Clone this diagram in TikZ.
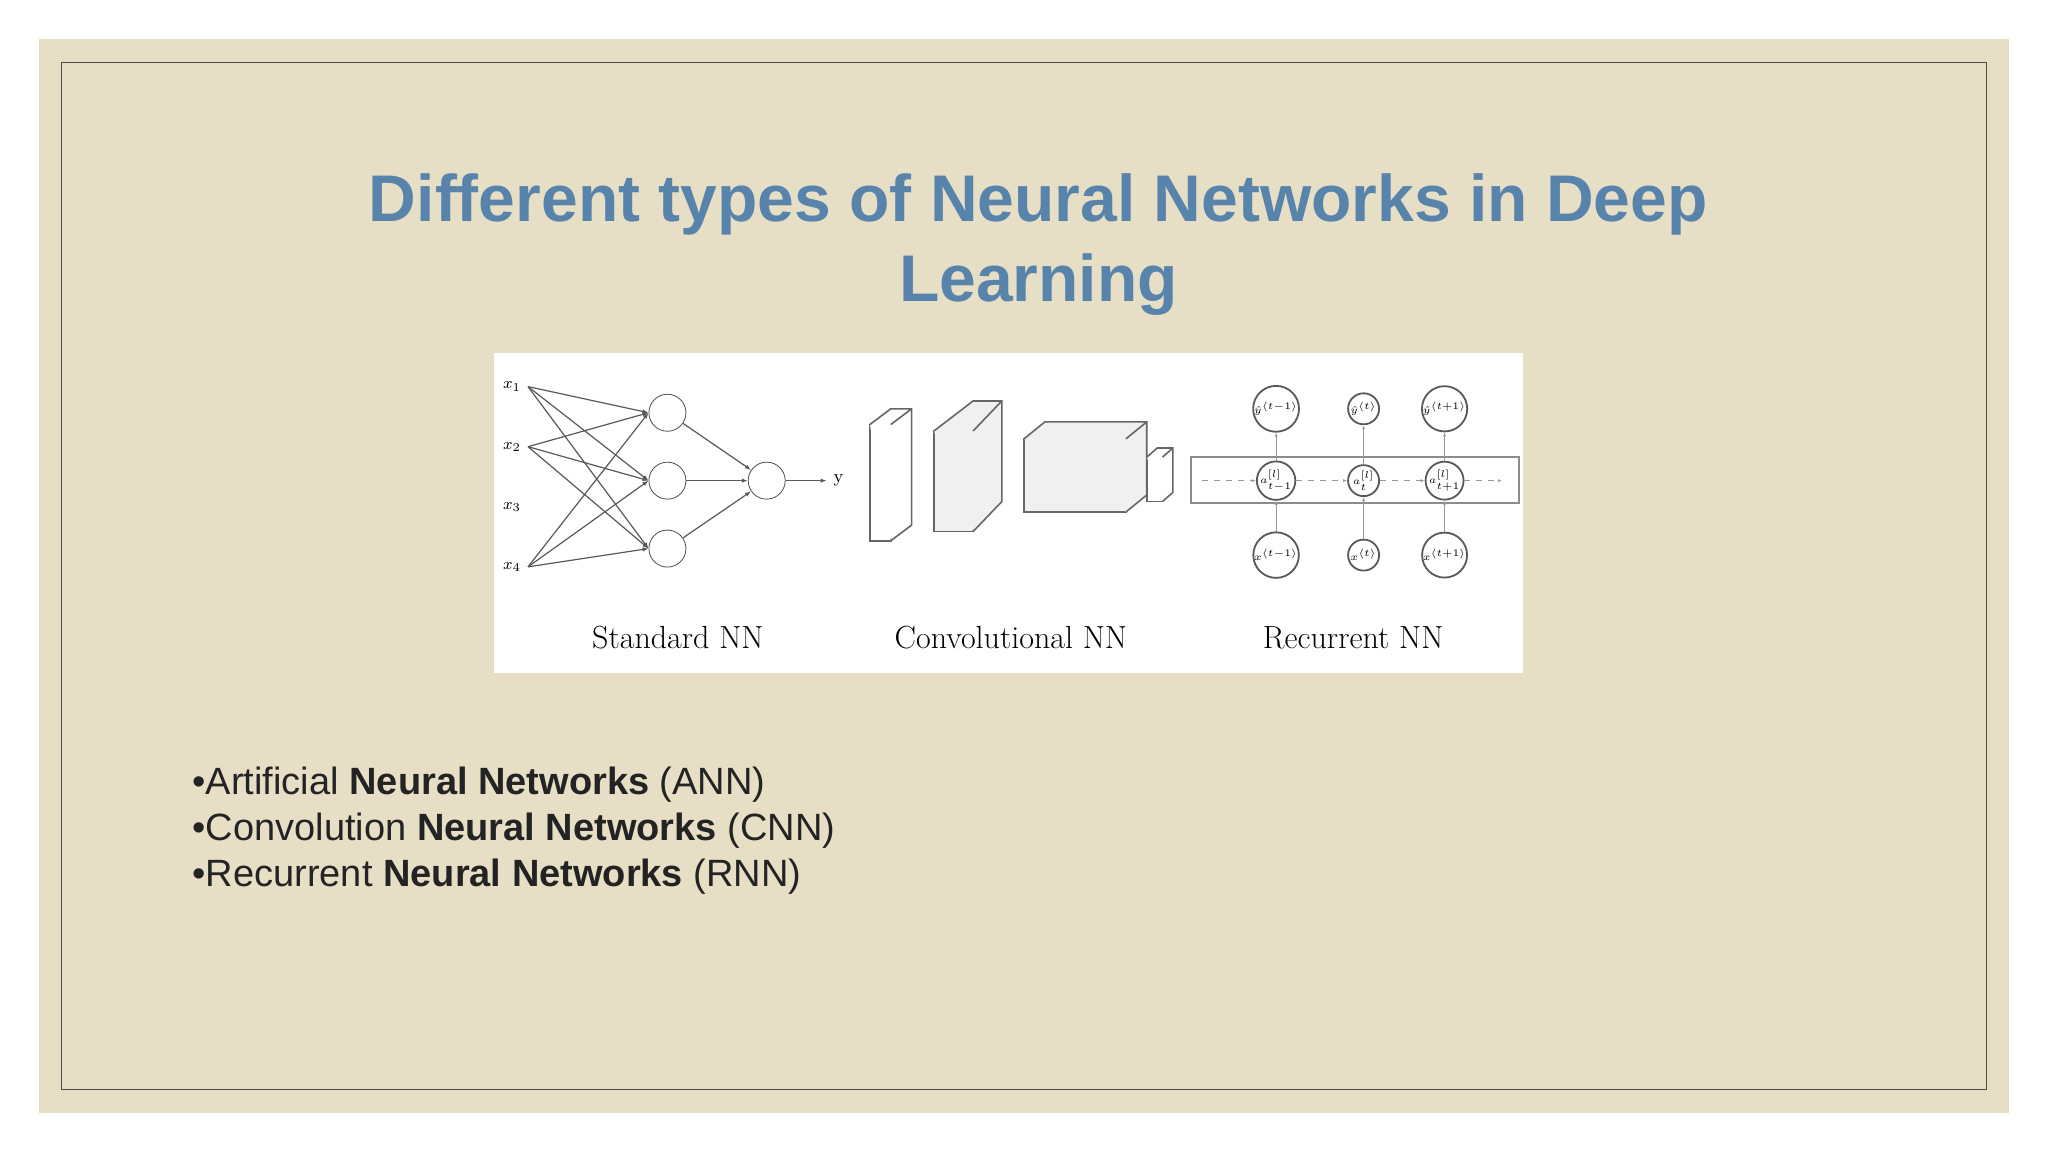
\documentclass[tikz,border=0pt]{standalone}
\usepackage{fontspec}
\newfontfamily\arial{Liberation Sans}
\usetikzlibrary{arrows.meta}
\definecolor{beige}{RGB}{230,223,198}
\definecolor{ttl}{RGB}{88,132,172}
\definecolor{txt}{RGB}{35,35,35}
\begin{document}
\begin{tikzpicture}[x=0.653pt,y=-0.653pt,
 neu/.style={circle,draw=black!70,fill=white,minimum size=18.5pt,inner sep=0pt},
 rn/.style={circle,draw=black!65,line width=0.9pt,fill=white,minimum size=15.5pt,inner sep=0pt,font=\fontsize{4}{4}\selectfont},
 inl/.style={font=\fontsize{8}{8}\selectfont\itshape},
 lbl/.style={font=\fontsize{16}{16}\selectfont},
 w/.style={draw=black!65,line width=0.6pt,-{Latex[length=3pt]}},
 blk/.style={draw=black!60,line width=0.8pt,fill=white},
 dots/.style={draw=black!60,line width=0.8pt,fill=black!6},
 bul/.style={font=\fontsize{19}{23}\selectfont\arial,text=txt,anchor=west}]
\useasboundingbox (0,0) rectangle (1568,882);
\fill[white] (0,0) rectangle (1568,882);
\fill[beige] (30,30) rectangle (1538,852);
\draw[black!70,line width=0.5pt] (47,48) rectangle (1521,834);
\node[font=\fontsize{33}{40}\selectfont\arial\bfseries,text=ttl,align=center] (title) at (795,187) {Different types of Neural Networks in Deep\\Learning};
\fill[white] (378,270) rectangle (1166,515);
% Standard NN
\foreach \i/\y in {1/296,2/342,3/388,4/434} \node[inl] (x\i) at (392,\y) {$x_{\i}$};
\foreach \j/\y in {1/316,2/368,3/420} \node[neu] (h\j) at (511,\y) {};
\node[neu] (o) at (587,368) {};
\node[font=\fontsize{9}{9}\selectfont] (yy) at (642,368) {y};
\foreach \i in {1,2,4} \foreach \j in {1,2,3} \draw[w] (x\i.east) -- (h\j.west);
\foreach \j in {1,2,3} \draw[w] (h\j) -- (o);
\draw[w] (o) -- (yy);
% CNN
\draw[blk] (666,325) rectangle (682,414);
\draw[blk] (666,325) -- (682,313) -- (698,313) -- (698,402) -- (682,414) (682,325) -- (698,313);
\draw[dots] (715,330) rectangle (745,407);
\draw[dots] (715,330) -- (745,307) -- (767,307) -- (767,384) -- (745,407) (745,330) -- (767,307);
\draw[dots] (784,336) rectangle (862,392);
\draw[dots] (784,336) -- (800,323) -- (878,323) -- (878,379) -- (862,392) (862,336) -- (878,323);
\draw[blk] (878,350) rectangle (890,384);
\draw[blk] (878,350) -- (886,343) -- (898,343) -- (898,377) -- (890,384) (890,350) -- (898,343);
% RNN
\draw[black!45,line width=0.8pt] (912,350) rectangle (1163,385);
\foreach \k/\x/\s in {1/977/{t-1},2/1044/{t},3/1106/{t+1}}{
 \node[rn] (y\k) at (\x,313) {$\hat y^{\langle\s\rangle}$};
 \node[rn] (a\k) at (\x,368) {$a^{[l]}_{\s}$};
 \node[rn] (xr\k) at (\x,425) {$x^{\langle\s\rangle}$};
 \draw[black!40,line width=0.4pt,-{Latex[length=2pt]}] (xr\k) -- (a\k);
 \draw[black!40,line width=0.4pt,-{Latex[length=2pt]}] (a\k) -- (y\k);}
\coordinate (rs) at (920,368); \coordinate (re) at (1150,368);
\draw[black!40,line width=0.4pt,dashed,-{Latex[length=2pt]}] (rs) -- (a1);
\draw[black!40,line width=0.4pt,dashed,-{Latex[length=2pt]}] (a1) -- (a2);
\draw[black!40,line width=0.4pt,dashed,-{Latex[length=2pt]}] (a2) -- (a3);
\draw[black!40,line width=0.4pt,dashed,-{Latex[length=2pt]}] (a3) -- (re);
\node[lbl] (l1) at (519,488) {Standard NN};
\node[lbl] (l2) at (774,488) {Convolutional NN};
\node[lbl] (l3) at (1036,488) {Recurrent NN};
% bullets
\node[bul] (b1) at (142,601) {•Artificial \textbf{Neural Networks} (ANN)};
\node[bul] (b2) at (142,636) {•Convolution \textbf{Neural Networks} (CNN)};
\node[bul] (b3) at (142,671) {•Recurrent \textbf{Neural Networks} (RNN)};
\end{tikzpicture}
\end{document}
